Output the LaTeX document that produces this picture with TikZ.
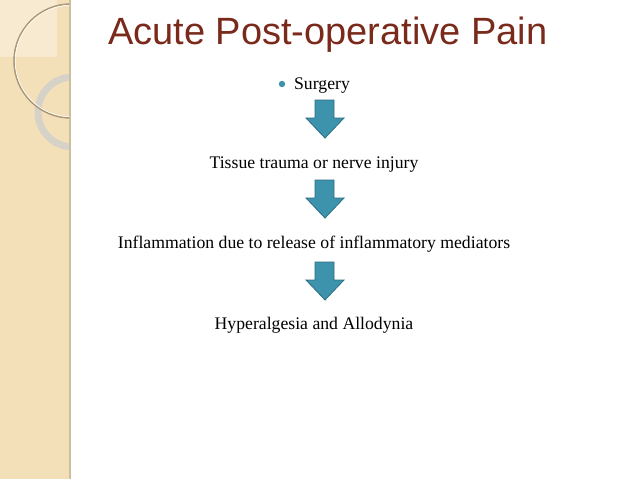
\documentclass[tikz,border=0pt]{standalone}
\usepackage{fontspec}
\setmainfont{Liberation Serif}
\newfontfamily\titlefont{Liberation Sans}
\begin{document}
\begin{tikzpicture}[x=1pt,y=-1pt,
  txt/.style={font=\fontsize{17.7}{20}\selectfont, inner sep=0pt},
  downarrow/.style={fill=arrowfill, draw=arrowline, line width=0.8pt}]
\definecolor{arrowfill}{HTML}{3D93AC}
\definecolor{arrowline}{HTML}{2B6E82}
\definecolor{titlered}{HTML}{7A2A1A}
\definecolor{panel}{HTML}{F3E0B8}
\useasboundingbox (0,0) rectangle (638,479);
\fill[white] (0,0) rectangle (638,479);
\fill[panel] (0,0) rectangle (70,479);
\draw[line width=1.5pt, color={rgb,255:red,205;green,190;blue,160}] (70,0) -- (70,479);
\begin{scope}
\clip (0,0) rectangle (69,479);
\fill[white, opacity=0.35] (0,0) rectangle (57,57);
\draw[line width=7pt, color={rgb,255:red,215;green,210;blue,200}] (73,112) circle (35);
\draw[line width=1.5pt, color={rgb,255:red,170;green,150;blue,120}] (71,61) circle (57);
\draw[line width=0.6pt, white] (71,61) circle (55.8);
\end{scope}
\node[anchor=base west, inner sep=0pt, text=titlered, font=\titlefont\fontsize{38}{40}\selectfont] (title) at (108,45) {Acute Post-operative Pain};
\node[txt, anchor=base] (s1) at (322,89) {Surgery};
\fill[arrowfill] (282,84) circle (3.2);
\node[txt, anchor=base] (s2) at (314,168) {Tissue trauma or nerve injury};
\node[txt, anchor=base] (s3) at (314,248) {Inflammation due to release of inflammatory mediators};
\node[txt, anchor=base] (s4) at (314,329) {Hyperalgesia and Allodynia};
\foreach \y in {100,180,262}{
  \draw[downarrow] (315,\y) -- (334,\y) -- (334,\y+18) -- (344,\y+18) -- (325,\y+38) -- (306,\y+18) -- (315,\y+18) -- cycle;
}
\end{tikzpicture}
\end{document}
